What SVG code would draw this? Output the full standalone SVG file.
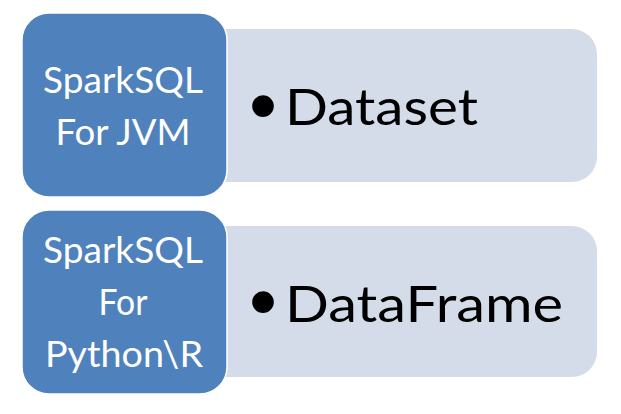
<svg xmlns="http://www.w3.org/2000/svg" width="621" height="414" viewBox="0 0 621 414">
  <style>
    .bg { fill: #D5DCE9; }
    .hd { fill: #4F81BD; stroke: #FFFFFF; stroke-width: 1.5; }
    .ht { fill: #FFFFFF; font-family: Lato, "Open Sans", sans-serif; font-size: 36px; text-anchor: middle; }
    .bt { fill: #000000; font-family: Lato, "Open Sans", sans-serif; font-size: 50px; }
    .bu { font-family: "Liberation Sans", sans-serif; font-size: 80px; }
  </style>
  <rect width="621" height="414" fill="#FFFFFF"/>
  <g id="connectors"></g>
  <g id="row1">
    <rect class="bg" x="200" y="29" width="397" height="153" rx="25" ry="25"/>
    <rect class="hd" x="22" y="13" width="205" height="184" rx="27" ry="27"/>
    <text class="ht"><tspan x="123" y="93" textLength="160" lengthAdjust="spacingAndGlyphs">SparkSQL</tspan><tspan x="123" y="145" textLength="135" lengthAdjust="spacingAndGlyphs">For JVM</tspan></text>
    <text class="bt"><tspan class="bu" x="249" y="133">•</tspan><tspan x="285" y="125" textLength="193" lengthAdjust="spacingAndGlyphs">Dataset</tspan></text>
  </g>
  <g id="row2">
    <rect class="bg" x="200" y="226" width="397" height="151" rx="25" ry="25"/>
    <rect class="hd" x="22" y="210" width="205" height="184" rx="27" ry="27"/>
    <text class="ht"><tspan x="123" y="263" textLength="160" lengthAdjust="spacingAndGlyphs">SparkSQL</tspan><tspan x="123" y="315" textLength="49" lengthAdjust="spacingAndGlyphs">For</tspan><tspan x="124" y="367" textLength="158" lengthAdjust="spacingAndGlyphs">Python\R</tspan></text>
    <text class="bt"><tspan class="bu" x="249" y="329">•</tspan><tspan x="285" y="322" textLength="278" lengthAdjust="spacingAndGlyphs">DataFrame</tspan></text>
  </g>
</svg>
